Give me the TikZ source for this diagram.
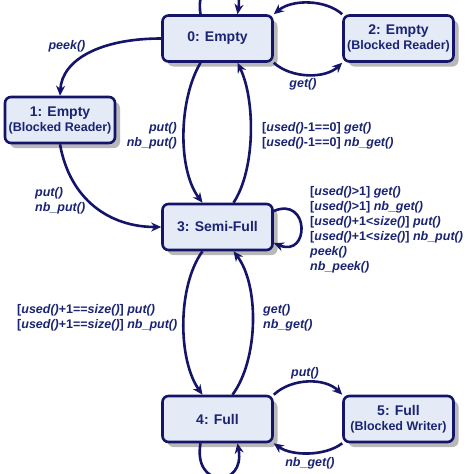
\documentclass[tikz,border=0pt]{standalone}
\usepackage{fontspec}
\setmainfont{Liberation Sans}
\usetikzlibrary{arrows.meta,shadows}
\definecolor{nv}{RGB}{20,20,105}
\definecolor{tx}{RGB}{26,36,115}
\definecolor{fl}{RGB}{228,234,246}
\newcommand{\fnit}[1]{\textit{#1}}
\newcommand{\subl}[1]{{\fontsize{12.5}{15}\selectfont #1}}
\tikzset{
 st/.style={draw=nv, line width=2.6pt, fill=fl, rounded corners=6pt,
   minimum width=110pt, minimum height=46pt, inner sep=0pt, align=center,
   text=tx, font=\fontsize{14}{15}\selectfont\bfseries,
   drop shadow={shadow xshift=5pt, shadow yshift=-5pt, fill=black!28, opacity=1}},
 tr/.style={draw=nv, line width=2.6pt, -{Stealth[length=10pt,width=9pt]}},
 lb/.style={text=tx, font=\fontsize{12.5}{15}\selectfont\bfseries, inner sep=0pt},
}
\begin{document}
\begin{tikzpicture}[x=1pt,y=-1pt]
\useasboundingbox (0,0) rectangle (474,474);
\fill[white] (0,0) rectangle (474,474);
\clip (0,0) rectangle (474,474);
% states
\node[st] (s0) at (217.5,38.5) {0: Empty};
\node[st] (s2) at (398.5,38.5) {2: Empty\\\subl{(Blocked Reader)}};
\node[st] (s1) at (60,120) {1: Empty\\\subl{(Blocked Reader)}};
\node[st] (s3) at (217.5,227) {3: Semi-Full};
\node[st] (s4) at (217.5,419) {4: Full};
\node[st] (s5) at (398.5,419) {5: Full\\\subl{(Blocked Writer)}};
% helper coordinates
\coordinate (a0tl) at ([xshift=-17pt]s0.north);
\coordinate (a0tr) at ([xshift=20pt]s0.north);
\coordinate (a0bl) at ([xshift=-17pt]s0.south);
\coordinate (a0br) at ([xshift=20pt]s0.south);
\coordinate (a3tl) at ([xshift=-15pt]s3.north);
\coordinate (a3tr) at ([xshift=16pt]s3.north);
\coordinate (a3bl) at ([xshift=-15pt]s3.south);
\coordinate (a3br) at ([xshift=16pt]s3.south);
\coordinate (a3ru) at ([yshift=16pt]s3.east);
\coordinate (a3rd) at ([yshift=-16pt]s3.east);
\coordinate (a4tl) at ([xshift=-15pt]s4.north);
\coordinate (a4tr) at ([xshift=15pt]s4.north);
\coordinate (a4bl) at ([xshift=-17pt]s4.south);
\coordinate (a4br) at ([xshift=20pt]s4.south);
% transitions
\draw[tr] (a0tl) .. controls +(-7,-45) and +(7,-45) .. (a0tr);
\draw[tr] (a4bl) .. controls +(-8,45) and +(8,45) .. (a4br);
\draw[tr] (s0.west) .. controls +(-61,0) and +(2,-36) .. (s1.north);
\draw[tr] (s2.north west) .. controls +(-17,-15) and +(18,-15) .. (s0.north east);
\draw[tr] (s0.south east) .. controls +(18,16) and +(-17,16) .. (s2.south west);
\draw[tr] (a0bl) .. controls +(-22,37) and +(-25,-33) .. (a3tl);
\draw[tr] (a3tr) .. controls +(22,-33) and +(18,37) .. (a0br);
\draw[tr] (s1.south) .. controls +(10,56) and +(-51,0) .. (s3.west);
\draw[tr] (a3ru) .. controls +(36,-15) and +(36,15) .. (a3rd);
\draw[tr] (a3bl) .. controls +(-25,34) and +(-25,-35) .. (a4tl);
\draw[tr] (a4tr) .. controls +(26,-35) and +(26,34) .. (a3br);
\draw[tr] (s4.north east) .. controls +(18,-17) and +(-17,-17) .. (s5.north west);
\draw[tr] (s5.south west) .. controls +(-17,13) and +(18,13) .. (s4.south east);
% labels
\node[lb] (l01) at (67,46) {\fnit{peek()}};
\node[lb] (l02) at (303,84) {\fnit{get()}};
\node[lb, align=right, anchor=east] (l03) at (177,135.5) {\fnit{put()}\\\fnit{nb\_put()}};
\node[lb, align=left, anchor=west] (l30) at (262,135.5) {{[}\fnit{used()}-1==0] \fnit{get()}\\{[}\fnit{used()}-1==0] \fnit{nb\_get()}};
\node[lb, align=left, anchor=west] (l13) at (35,200.5) {\fnit{put()}\\\fnit{nb\_put()}};
\node[lb, align=left, anchor=west] (l33) at (310,229.5) {{[}\fnit{used()}>1] \fnit{get()}\\
{[}\fnit{used()}>1] \fnit{nb\_get()}\\
{[}\fnit{used()}+1<\fnit{size()}] \fnit{put()}\\
{[}\fnit{used()}+1<\fnit{size()}] \fnit{nb\_put()}\\
\fnit{peek()}\\
\fnit{nb\_peek()}};
\node[lb, align=left, anchor=west] (l34) at (17,318) {{[}\fnit{used()}+1==\fnit{size()}] \fnit{put()}\\{[}\fnit{used()}+1==\fnit{size()}] \fnit{nb\_put()}};
\node[lb, align=left, anchor=west] (l43) at (263,318) {\fnit{get()}\\\fnit{nb\_get()}};
\node[lb] (l45) at (305,373) {\fnit{put()}};
\node[lb] (l54) at (310,463) {\fnit{nb\_get()}};
\end{tikzpicture}
\end{document}
